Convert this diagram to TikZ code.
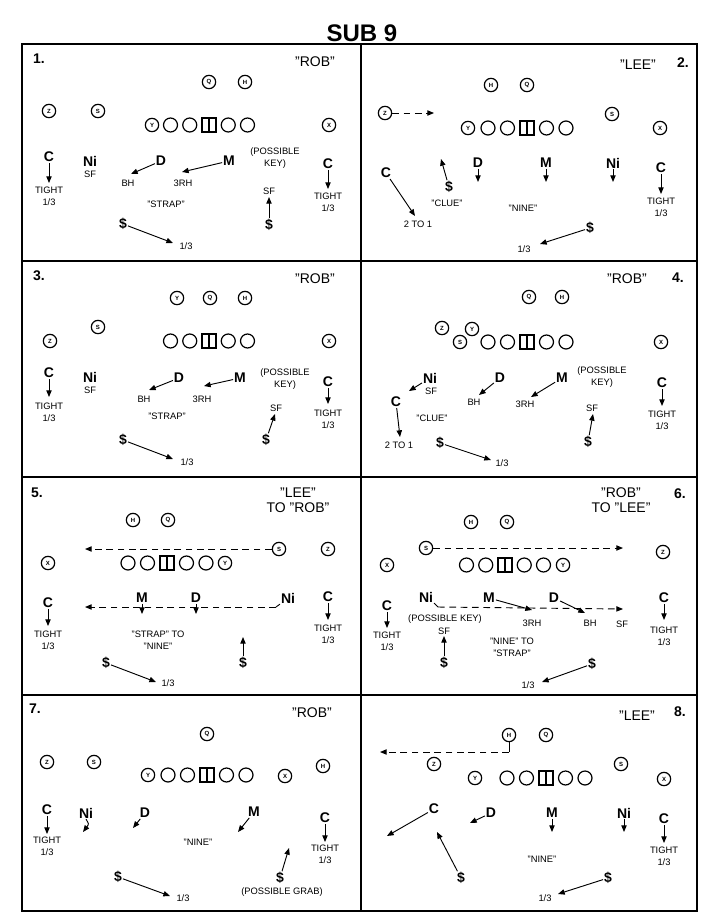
\documentclass[tikz,border=0pt]{standalone}
\usepackage{fontspec}
\setmainfont{Liberation Sans}
\usetikzlibrary{arrows.meta}
\tikzset{
  sk/.style={circle,draw,line width=0.9pt,inner sep=0pt,minimum size=10pt,font=\fontsize{4.5}{5}\bfseries\selectfont},
  olc/.style={circle,draw,line width=0.9pt,inner sep=0pt,minimum size=10.5pt},
  ctr/.style={rectangle,draw,line width=0.9pt,inner sep=0pt,minimum size=10.5pt,
    path picture={\draw[line width=0.9pt] (path picture bounding box.north) -- (path picture bounding box.south);}},
  big/.style={font=\fontsize{10.5}{12}\bfseries\selectfont,inner sep=0.6pt},
  lbl/.style={font=\fontsize{7}{9}\selectfont,align=center,inner sep=0.5pt},
  call/.style={font=\fontsize{10.5}{11.5}\selectfont,align=center,inner sep=0pt},
  num/.style={font=\fontsize{10.5}{12}\bfseries\selectfont,inner sep=0pt},
  arr/.style={draw,line width=0.7pt,-{Triangle[length=5pt,width=4pt]}},
  dsh/.style={arr,dash pattern=on 5pt off 3.5pt},
  tick/.style={draw,line width=0.7pt},
  frame/.style={draw,line width=1.4pt}
}
\newcommand\fiveline[3]{%
  \node[olc] (lt) at (#1-2*#3,#2) {};
  \node[olc] (lg) at (#1-#3,#2) {};
  \node[ctr] (ce) at (#1,#2) {};
  \node[olc] (rg) at (#1+#3,#2) {};
  \node[olc] (rt) at (#1+2*#3,#2) {};
}
\begin{document}
\begin{tikzpicture}[x=0.75pt,y=-0.75pt]
\useasboundingbox (0,0) rectangle (713,921);
% title and frame
\node[font=\fontsize{18}{20}\bfseries\selectfont,inner sep=0pt] (title) at (362,33.5) {SUB 9};
\draw[frame] (22,44) rectangle (697,911);
\draw[frame] (361,44) -- (361,911);
\draw[frame] (22,261) -- (697,261);
\draw[frame] (22,477) -- (697,477);
\draw[frame] (22,695) -- (697,695);

% ---------------- Panel 1
\begin{scope}[name prefix=p1-]
\node[num] (n) at (39,59) {1.};
\node[call] (call) at (315,62) {"ROB"};
\node[sk] (Q) at (209,82) {Q};
\node[sk] (H) at (245,82) {H};
\node[sk] (Z) at (49,111) {Z};
\node[sk] (S) at (98,111) {S};
\node[sk] (Y) at (152,125) {Y};
\fiveline{209}{125}{19.25}
\node[sk] (X) at (329,125) {X};
\node[big] (C1) at (49,157) {C};
\coordinate (c1t) at (49,183);
\draw[arr] (C1) -- (c1t);
\node[lbl] (t1) at (49,196) {TIGHT\\1/3};
\node[big] (Ni) at (90,161) {Ni};
\node[lbl] (sf1) at (90,174) {SF};
\node[big] (D) at (161,161) {D};
\coordinate (dt) at (131,174);
\draw[arr] (D) -- (dt);
\node[lbl] (bh) at (128,183) {BH};
\node[big] (M) at (229,161) {M};
\coordinate (mt) at (182,172);
\draw[arr] (M) -- (mt);
\node[lbl] (rh) at (183,183) {3RH};
\node[lbl] (key) at (275,158) {(POSSIBLE\\KEY)};
\node[lbl] (sf2) at (269,191) {SF};
\node[big] (S2) at (269,225) {\$};
\coordinate (s2t) at (269,197);
\draw[arr] (S2) -- (s2t);
\node[big] (C2) at (328,164) {C};
\coordinate (c2t) at (328,189);
\draw[arr] (C2) -- (c2t);
\node[lbl] (t2) at (328,202) {TIGHT\\1/3};
\node[lbl] (cl) at (166,204) {"STRAP"};
\node[big] (S1) at (123,224) {\$};
\coordinate (s1t) at (173,243);
\draw[arr] (S1) -- (s1t);
\node[lbl] (th) at (186,246) {1/3};
\end{scope}

% ---------------- Panel 2
\begin{scope}[name prefix=p2-]
\node[call] (call) at (638,65) {"LEE"};
\node[num] (n) at (683,63) {2.};
\node[sk] (H) at (491,85) {H};
\node[sk] (Q) at (527,85) {Q};
\node[sk] (Z) at (385,113) {Z};
\coordinate (zt) at (434,113);
\draw[dsh] (Z) -- (zt);
\node[sk] (S) at (612,114) {S};
\node[sk] (Y) at (468,128) {Y};
\fiveline{527}{128}{19.5}
\node[sk] (X) at (660,128) {X};
\node[big] (C1) at (386,173) {C};
\coordinate (c1t) at (415,216);
\draw[arr] (C1) -- (c1t);
\node[lbl] (two) at (418,224) {2 TO 1};
\node[big] (S1) at (449,187) {\$};
\coordinate (s1t) at (441,159);
\draw[arr] (S1) -- (s1t);
\node[lbl] (cl) at (447,203) {"CLUE"};
\node[big] (D) at (478,163) {D};
\coordinate (dt) at (478,182);
\draw[arr] (D) -- (dt);
\node[big] (M) at (546,163) {M};
\coordinate (mt) at (546,182);
\draw[arr] (M) -- (mt);
\node[big] (Ni) at (613,163) {Ni};
\coordinate (nt) at (613,182);
\draw[arr] (Ni) -- (nt);
\node[big] (C2) at (661,168) {C};
\coordinate (c2t) at (661,194);
\draw[arr] (C2) -- (c2t);
\node[lbl] (t2) at (661,207) {TIGHT\\1/3};
\node[lbl] (nine) at (523,208) {"NINE"};
\node[big] (S2) at (590,228) {\$};
\coordinate (s2t) at (540,244);
\draw[arr] (S2) -- (s2t);
\node[lbl] (th) at (524,249) {1/3};
\end{scope}

% ---------------- Panel 3
\begin{scope}[name prefix=p3-]
\node[num] (n) at (39,276) {3.};
\node[call] (call) at (315,279) {"ROB"};
\node[sk] (Y) at (177,298) {Y};
\node[sk] (Q) at (210,298) {Q};
\node[sk] (H) at (245,298) {H};
\node[sk] (S) at (98,327) {S};
\node[sk] (Z) at (50,341) {Z};
\fiveline{209}{341}{19.25}
\node[sk] (X) at (329,341) {X};
\node[big] (C1) at (49,373) {C};
\coordinate (c1t) at (49,397);
\draw[arr] (C1) -- (c1t);
\node[lbl] (t1) at (49,412) {TIGHT\\1/3};
\node[big] (Ni) at (90,377) {Ni};
\node[lbl] (sf1) at (90,390) {SF};
\node[big] (D) at (179,378) {D};
\coordinate (dt) at (149,390);
\draw[arr] (D) -- (dt);
\node[lbl] (bh) at (144,399) {BH};
\node[big] (M) at (240,378) {M};
\coordinate (mt) at (204,386);
\draw[arr] (M) -- (mt);
\node[lbl] (rh) at (202,399) {3RH};
\node[lbl] (key) at (285,379) {(POSSIBLE\\KEY)};
\node[lbl] (sf2) at (276,408) {SF};
\node[big] (S2) at (266,440) {\$};
\coordinate (s2t) at (275,414);
\draw[arr] (S2) -- (s2t);
\node[big] (C2) at (328,382) {C};
\coordinate (c2t) at (328,404);
\draw[arr] (C2) -- (c2t);
\node[lbl] (t2) at (328,419) {TIGHT\\1/3};
\node[lbl] (cl) at (167,416) {"STRAP"};
\node[big] (S1) at (123,440) {\$};
\coordinate (s1t) at (173,459);
\draw[arr] (S1) -- (s1t);
\node[lbl] (th) at (187,462) {1/3};
\end{scope}

% ---------------- Panel 4
\begin{scope}[name prefix=p4-]
\node[call] (call) at (627,279) {"ROB"};
\node[num] (n) at (678,278) {4.};
\node[sk] (Q) at (529,297) {Q};
\node[sk] (H) at (562,297) {H};
\node[sk] (Z) at (442,328) {Z};
\node[sk] (Y) at (472,329) {Y};
\node[sk] (S) at (460,342) {S};
\fiveline{527}{342}{19.5}
\node[sk] (X) at (661,342) {X};
\node[big] (Ni) at (430,378) {Ni};
\coordinate (nt) at (409,391);
\draw[arr] (Ni) -- (nt);
\node[lbl] (sf1) at (431,391) {SF};
\node[big] (C1) at (396,402) {C};
\coordinate (c1t) at (400,437);
\draw[arr] (C1) -- (c1t);
\node[lbl] (two) at (399,445) {2 TO 1};
\node[lbl] (cl) at (432,418) {"CLUE"};
\node[big] (D) at (500,378) {D};
\coordinate (dt) at (479,395);
\draw[arr] (D) -- (dt);
\node[lbl] (bh) at (474,402) {BH};
\node[big] (M) at (562,378) {M};
\coordinate (mt) at (531,397);
\draw[arr] (M) -- (mt);
\node[lbl] (rh) at (525,404) {3RH};
\node[lbl] (key) at (602,377) {(POSSIBLE\\KEY)};
\node[lbl] (sf2) at (592,408) {SF};
\node[big] (S2) at (588,442) {\$};
\coordinate (s2t) at (593,414);
\draw[arr] (S2) -- (s2t);
\node[big] (C2) at (662,383) {C};
\coordinate (c2t) at (662,406);
\draw[arr] (C2) -- (c2t);
\node[lbl] (t2) at (662,420) {TIGHT\\1/3};
\node[big] (S1) at (440,443) {\$};
\coordinate (s1t) at (491,460);
\draw[arr] (S1) -- (s1t);
\node[lbl] (th) at (502,463) {1/3};
\end{scope}

% ---------------- Panel 5
\begin{scope}[name prefix=p5-]
\node[num] (n) at (37,493) {5.};
\node[call] (call) at (298,500) {"LEE"\\TO "ROB"};
\node[sk] (H) at (133,520) {H};
\node[sk] (Q) at (168,520) {Q};
\node[sk] (S) at (279,549) {S};
\coordinate (st) at (85,549);
\draw[dsh] (S) -- (st);
\node[sk] (Z) at (328,549) {Z};
\node[sk] (X) at (48,563) {X};
\fiveline{167}{563}{19.5}
\node[sk] (Y) at (225,563) {Y};
\node[big] (C1) at (48,603) {C};
\coordinate (c1t) at (48,626);
\draw[arr] (C1) -- (c1t);
\node[lbl] (t1) at (48,640) {TIGHT\\1/3};
\node[big] (M) at (142,598) {M};
\coordinate (mt) at (142,614);
\draw[arr] (M) -- (mt);
\node[big] (D) at (196,598) {D};
\coordinate (dt) at (196,614);
\draw[arr] (D) -- (dt);
\node[big] (Ni) at (288,598) {Ni};
\coordinate (nk) at (276,607);
\coordinate (nt) at (85,607);
\draw[tick] (Ni.south west) -- (nk);
\draw[dsh] (nk) -- (nt);
\node[big] (C2) at (328,597) {C};
\coordinate (c2t) at (328,620);
\draw[arr] (C2) -- (c2t);
\node[lbl] (t2) at (328,634) {TIGHT\\1/3};
\node[lbl] (cl) at (158,640) {"STRAP" TO\\"NINE"};
\node[big] (S2) at (243,663) {\$};
\coordinate (s2t) at (243,637);
\draw[arr] (S2) -- (s2t);
\node[big] (S1) at (106,663) {\$};
\coordinate (s1t) at (156,682);
\draw[arr] (S1) -- (s1t);
\node[lbl] (th) at (168,683) {1/3};
\end{scope}

% ---------------- Panel 6
\begin{scope}[name prefix=p6-]
\node[call] (call) at (621,500) {"ROB"\\TO "LEE"};
\node[num] (n) at (680,494) {6.};
\node[sk] (H) at (471,522) {H};
\node[sk] (Q) at (507,522) {Q};
\node[sk] (S) at (426,548) {S};
\coordinate (st) at (623,548);
\draw[dsh] (S) -- (st);
\node[sk] (Z) at (663,552) {Z};
\node[sk] (X) at (387,565) {X};
\fiveline{505}{565}{19.25}
\node[sk] (Y) at (563,565) {Y};
\node[big] (C1) at (387,606) {C};
\coordinate (c1t) at (387,628);
\draw[arr] (C1) -- (c1t);
\node[lbl] (t1) at (387,641) {TIGHT\\1/3};
\node[big] (Ni) at (426,597) {Ni};
\coordinate (nk) at (438,607);
\coordinate (nt) at (623,609);
\draw[tick] (Ni.south east) -- (nk);
\draw[dsh] (nk) -- (nt);
\node[lbl] (key) at (445,619) {(POSSIBLE KEY)};
\node[lbl] (sf1) at (444,631) {SF};
\node[big] (S1) at (444,663) {\$};
\coordinate (s1t) at (444,636);
\draw[arr] (S1) -- (s1t);
\node[big] (M) at (489,598) {M};
\coordinate (mt) at (532,610);
\draw[arr] (M) -- (mt);
\node[lbl] (rh) at (532,623) {3RH};
\node[big] (D) at (554,598) {D};
\coordinate (dt) at (585,613);
\draw[arr] (D) -- (dt);
\node[lbl] (bh) at (590,623) {BH};
\node[lbl] (sf2) at (622,624) {SF};
\node[big] (C2) at (664,598) {C};
\coordinate (c2t) at (664,620);
\draw[arr] (C2) -- (c2t);
\node[lbl] (t2) at (664,636) {TIGHT\\1/3};
\node[lbl] (cl) at (512,647) {"NINE" TO\\"STRAP"};
\node[big] (S2) at (592,664) {\$};
\coordinate (s2t) at (542,682);
\draw[arr] (S2) -- (s2t);
\node[lbl] (th) at (528,685) {1/3};
\end{scope}

% ---------------- Panel 7
\begin{scope}[name prefix=p7-]
\node[num] (n) at (35,709) {7.};
\node[call] (call) at (312,713) {"ROB"};
\node[sk] (Q) at (207,734) {Q};
\node[sk] (Z) at (47,762) {Z};
\node[sk] (S) at (94,762) {S};
\node[sk] (H) at (323,766) {H};
\node[sk] (Y) at (148,775) {Y};
\fiveline{207}{775}{19.5}
\node[sk] (X) at (285,776) {X};
\node[big] (C1) at (47,810) {C};
\coordinate (c1t) at (47,834);
\draw[arr] (C1) -- (c1t);
\node[lbl] (t1) at (47,846) {TIGHT\\1/3};
\node[big] (Ni) at (86,813) {Ni};
\coordinate (nt) at (83,832);
\draw[arr] (Ni.south) .. controls (89,824) .. (nt);
\node[big] (D) at (145,813) {D};
\coordinate (dt) at (133,828);
\draw[arr] (D) -- (dt);
\node[big] (M) at (254,812) {M};
\coordinate (mt) at (238,832);
\draw[arr] (M) -- (mt);
\node[big] (C2) at (325,818) {C};
\coordinate (c2t) at (325,842);
\draw[arr] (C2) -- (c2t);
\node[lbl] (t2) at (325,854) {TIGHT\\1/3};
\node[lbl] (nine) at (198,842) {"NINE"};
\node[big] (S2) at (280,878) {\$};
\coordinate (s2t) at (289,848);
\draw[arr] (S2) -- (s2t);
\node[lbl] (grab) at (282,892) {(POSSIBLE GRAB)};
\node[big] (S1) at (118,877) {\$};
\coordinate (s1t) at (170,896);
\draw[arr] (S1) -- (s1t);
\node[lbl] (th) at (183,898) {1/3};
\end{scope}

% ---------------- Panel 8
\begin{scope}[name prefix=p8-]
\node[call] (call) at (637,716) {"LEE"};
\node[num] (n) at (680,712) {8.};
\node[sk] (H) at (509,735) {H};
\node[sk] (Q) at (546,735) {Q};
\coordinate (hk) at (509,752);
\coordinate (ht) at (380,752);
\draw[tick] (H) -- (hk);
\draw[dsh] (hk) -- (ht);
\node[sk] (Z) at (434,764) {Z};
\node[sk] (S) at (621,764) {S};
\node[sk] (Y) at (475,778) {Y};
\fiveline{546}{778}{19.5}
\node[sk] (X) at (664,779) {X};
\node[big] (C1) at (434,809) {C};
\coordinate (c1t) at (387,836);
\draw[arr] (C1) -- (c1t);
\node[big] (S1) at (461,878) {\$};
\coordinate (s1t) at (437,832);
\draw[arr] (S1) -- (s1t);
\node[big] (D) at (491,813) {D};
\coordinate (dt) at (470,823);
\draw[arr] (D) -- (dt);
\node[big] (M) at (552,813) {M};
\coordinate (mt) at (552,832);
\draw[arr] (M) -- (mt);
\node[big] (Ni) at (624,813) {Ni};
\coordinate (nt) at (624,832);
\draw[arr] (Ni) -- (nt);
\node[big] (C2) at (664,819) {C};
\coordinate (c2t) at (664,843);
\draw[arr] (C2) -- (c2t);
\node[lbl] (t2) at (664,856) {TIGHT\\1/3};
\node[lbl] (nine) at (542,859) {"NINE"};
\node[big] (S2) at (608,878) {\$};
\coordinate (s2t) at (558,894);
\draw[arr] (S2) -- (s2t);
\node[lbl] (th) at (545,898) {1/3};
\end{scope}
\end{tikzpicture}
\end{document}
